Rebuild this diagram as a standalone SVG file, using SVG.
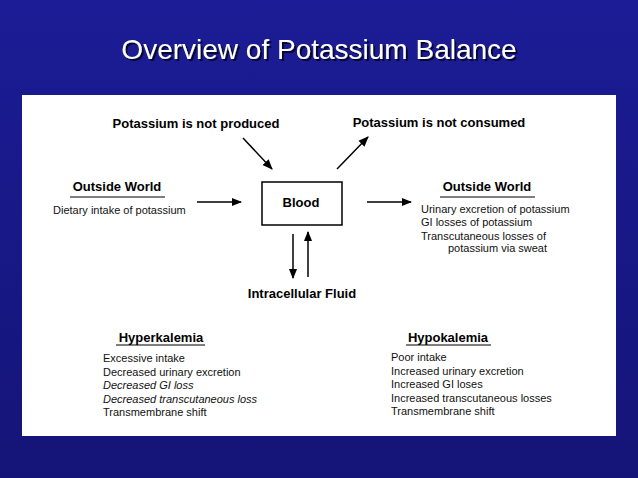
<svg xmlns="http://www.w3.org/2000/svg" width="638" height="478" viewBox="0 0 638 478">
<defs>
<linearGradient id="bg" x1="0" y1="0" x2="0" y2="1"><stop offset="0" stop-color="#1c1c96"/><stop offset="1" stop-color="#141478"/></linearGradient>
<filter id="sh" x="-10%" y="-30%" width="120%" height="160%"><feDropShadow dx="2" dy="2" stdDeviation="0.5" flood-color="#000" flood-opacity="0.7"/></filter>
<marker id="ah" viewBox="0 0 10 10" refX="9" refY="5" markerWidth="7" markerHeight="7" orient="auto"><path d="M0,1 L10,5 L0,9 z" fill="#000"/></marker>
<style>
.h{font-family:"Liberation Sans",Arial,sans-serif;font-size:13px;font-weight:bold;fill:#000}
.t{font-family:"Liberation Sans",Arial,sans-serif;font-size:11px;fill:#111}
.i{font-style:italic}
.c line{stroke:#000;stroke-width:1.5;marker-end:url(#ah)}
.u{stroke:#000;stroke-width:1.2}
</style>
</defs>
<rect width="638" height="478" fill="url(#bg)"/>
<text x="319" y="59" text-anchor="middle" font-family="Liberation Sans,Arial,sans-serif" font-size="28" fill="#fff" filter="url(#sh)">Overview of Potassium Balance</text>
<rect x="22" y="95" width="594" height="341" fill="#fff"/>
<g id="notproduced"><text class="h" x="196" y="128" text-anchor="middle">Potassium is not produced</text></g>
<g id="notconsumed"><text class="h" x="439" y="127" text-anchor="middle">Potassium is not consumed</text></g>
<g id="outsideleft"><text class="h" x="117" y="191" text-anchor="middle">Outside World</text><line class="u" x1="70" y1="197" x2="165" y2="197"/><text class="t" x="53" y="214">Dietary intake of potassium</text></g>
<g id="blood"><rect x="262" y="182" width="80" height="43" fill="#fff" stroke="#000" stroke-width="1.5"/><text class="h" x="301" y="207" text-anchor="middle">Blood</text></g>
<g id="outsideright"><text class="h" x="487" y="191" text-anchor="middle">Outside World</text><line class="u" x1="440" y1="197" x2="535" y2="197"/>
<text class="t" x="421" y="213">Urinary excretion of potassium</text><text class="t" x="421" y="226">GI losses of potassium</text><text class="t" x="421" y="240">Transcutaneous losses of</text><text class="t" x="448" y="252">potassium via sweat</text></g>
<g id="icf"><text class="h" x="302" y="298" text-anchor="middle">Intracellular Fluid</text></g>
<g id="hyper"><text class="h" x="161" y="342" text-anchor="middle">Hyperkalemia</text><line class="u" x1="116" y1="345" x2="205" y2="345"/>
<text class="t" x="103" y="362">Excessive intake</text><text class="t" x="103" y="376">Decreased urinary excretion</text><text class="t i" x="103" y="389">Decreased GI loss</text><text class="t i" x="103" y="403">Decreased transcutaneous loss</text><text class="t" x="103" y="416">Transmembrane shift</text></g>
<g id="hypo"><text class="h" x="448" y="342" text-anchor="middle">Hypokalemia</text><line class="u" x1="406" y1="345" x2="491" y2="345"/>
<text class="t" x="391" y="361">Poor intake</text><text class="t" x="391" y="375">Increased urinary excretion</text><text class="t" x="391" y="388">Increased GI loses</text><text class="t" x="391" y="402">Increased transcutaneous losses</text><text class="t" x="391" y="415">Transmembrane shift</text></g>
<g id="connectors" class="c">
<line x1="243" y1="138" x2="272" y2="169"/>
<line x1="337" y1="169" x2="368" y2="137"/>
<line x1="197" y1="202" x2="241" y2="202"/>
<line x1="367" y1="202" x2="411" y2="202"/>
<line x1="293" y1="234" x2="293" y2="278"/>
<line x1="308" y1="277" x2="308" y2="232"/>
</g>
</svg>
